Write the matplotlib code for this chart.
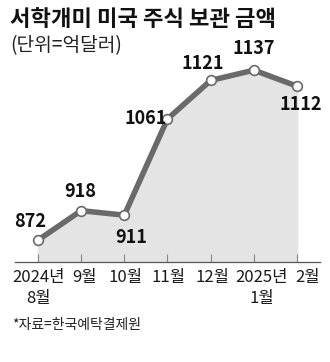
import matplotlib
matplotlib.use("Agg")
import matplotlib.pyplot as plt
from matplotlib.transforms import ScaledTranslation

plt.rcParams['font.family'] = ['Noto Sans CJK KR', 'DejaVu Sans']

months = ["2024년\n8월", "9월", "10월", "11월", "12월", "2025년\n1월", "2월"]
values = [872, 918, 911, 1061, 1121, 1137, 1112]
label_offsets = [(-8, 19), (-1, 19), (7, -22), (-22, 0), (-8, 17), (0, 22), (4, -18)]
tick_shift_px = [1, 3, 1, 1, 2, 8, 11]

W, H = 330, 362
fig = plt.figure(figsize=(W/100, H/100), dpi=100)
ax = fig.add_axes([15/W, 100/H, 305/W, 222/H])
x = list(range(len(values)))

ax.fill_between(x, values, 838, color='#e4e4e4', zorder=1)
ax.plot(x, values, color='#6a6a6a', lw=4.0, zorder=3, solid_capstyle='butt')
ax.plot(x, values, 'o', ms=7, mfc='white', mec='#6a6a6a', mew=1.2, zorder=4)

for xi, v, off in zip(x, values, label_offsets):
    ax.annotate(str(v), (xi, v), xytext=off, textcoords='offset pixels',
                ha='center', va='center', fontsize=13, fontweight='bold',
                color='#111111', zorder=5)

ax.set_xlim(-0.53, 6.53)
ax.set_ylim(838, 1184)
for s in ['top', 'right', 'left']:
    ax.spines[s].set_visible(False)
ax.spines['bottom'].set_color('#555555')
ax.spines['bottom'].set_linewidth(0.9)
ax.set_yticks([])
ax.set_xticks(x)
ax.set_xticklabels(months, fontsize=12, color='#1a1a1a', linespacing=1.3, va='top')
ax.tick_params(axis='x', direction='in', length=6, width=0.8, color='#888888', pad=5)
for lab, dx in zip(ax.get_xticklabels(), tick_shift_px):
    lab.set_transform(lab.get_transform() + ScaledTranslation(dx/100, 0, fig.dpi_scale_trans))

fig.text(10/W, 1 - 19/H, "서학개미 미국 주식 보관 금액", fontsize=16, fontweight='bold',
         ha='left', va='center', color='#111111')
fig.text(10/W, 1 - 46/H, "(단위=억달러)", fontsize=13.8, ha='left', va='center', color='#222222')
fig.text(12/W, 1 - 325/H, "*자료=한국예탁결제원", fontsize=10, ha='left', va='center', color='#222222')

fig.savefig("out.png", dpi=100)
